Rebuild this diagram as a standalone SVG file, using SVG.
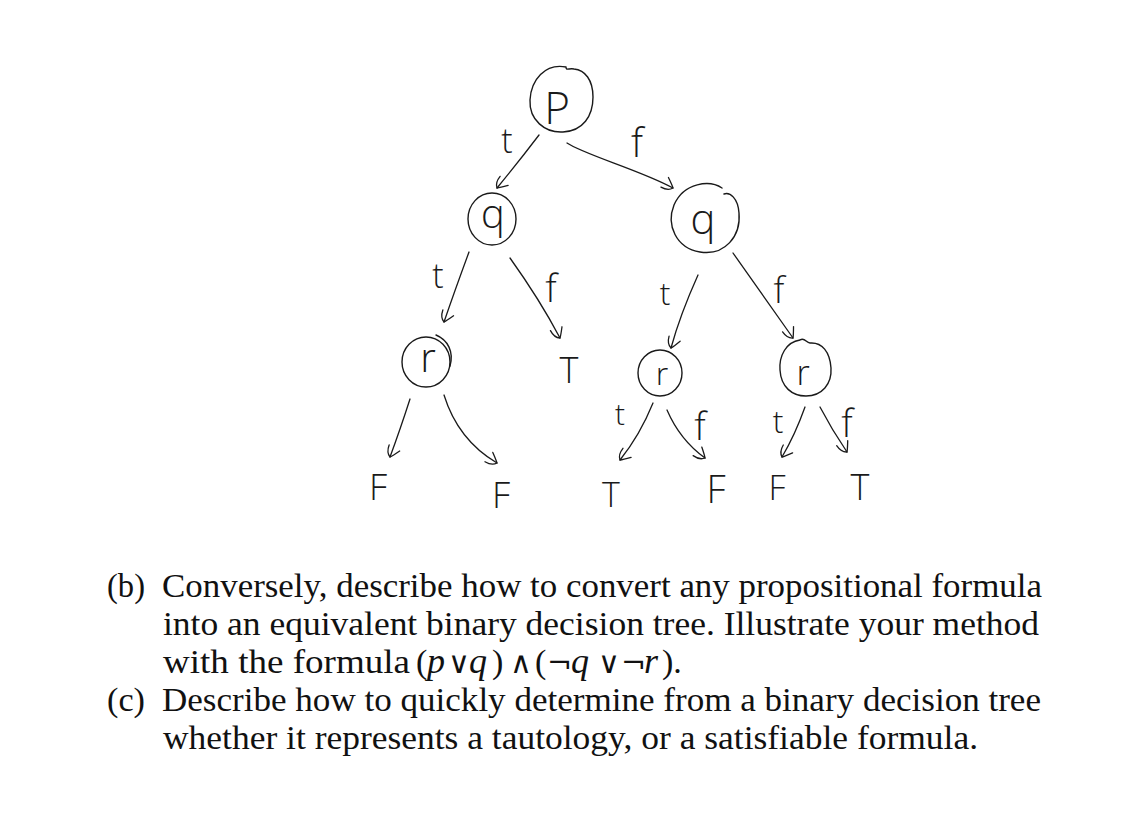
<svg xmlns="http://www.w3.org/2000/svg" width="1148" height="818" viewBox="0 0 1148 818">
<style>
.bg{fill:#ffffff}
.node{fill:none;stroke:#1a1a1a;stroke-width:1.4;stroke-linecap:round}
.edge{fill:none;stroke:#1a1a1a;stroke-width:1.3;stroke-linecap:round;marker-end:url(#hook)}
.hw{font-family:"Open Sans","DejaVu Sans",sans-serif;font-weight:300;fill:#1a1a1a;text-anchor:middle}
.lbl{font-family:"Open Sans","DejaVu Sans",sans-serif;font-weight:300;fill:#1a1a1a;text-anchor:middle}
.body{font-family:"Liberation Serif","DejaVu Serif",serif;font-size:34px;fill:#111}
.it{font-style:italic;font-size:36px}
.sym{font-family:"DejaVu Serif","Liberation Serif",serif;font-size:30px}
</style>
<defs>
<marker id="hook" viewBox="-14 -10 16 20" refX="0" refY="0" markerWidth="16" markerHeight="20" markerUnits="userSpaceOnUse" orient="auto" overflow="visible">
<path d="M-9,-7 Q-2,-2 0,0 M0,0 Q-3,5 -11,5" fill="none" stroke="#1a1a1a" stroke-width="1.3" stroke-linecap="round"/>
</marker>
</defs>
<rect class="bg" x="0" y="0" width="1148" height="818"/>

<g id="connectors">
<path class="edge" d="M539,135 Q520,160 497,188"/>
<path class="edge" d="M567,143 C585,155 640,170 673,188"/>
<path class="edge" d="M469,252 Q455,290 444,322"/>
<path class="edge" d="M510,258 Q540,300 560,338"/>
<path class="edge" d="M410,399 Q400,430 390,457"/>
<path class="edge" d="M444,395 Q458,440 497,463"/>
<path class="edge" d="M698,275 Q680,315 671,348"/>
<path class="edge" d="M733,253 L793,338"/>
<path class="edge" d="M653,403 Q640,435 620,460"/>
<path class="edge" d="M667,410 Q680,440 705,458"/>
<path class="edge" d="M805,407 Q795,435 782,457"/>
<path class="edge" d="M820,407 Q832,430 847,452"/>
<text class="lbl" x="507" y="153" font-size="34">t</text>
<text class="lbl" x="637" y="157" font-size="40">f</text>
<text class="lbl" x="438" y="288" font-size="34">t</text>
<text class="lbl" x="551" y="302" font-size="38">f</text>
<text class="lbl" x="665" y="305" font-size="32">t</text>
<text class="lbl" x="779" y="303" font-size="36">f</text>
<text class="lbl" x="620" y="425" font-size="30">t</text>
<text class="lbl" x="700" y="440" font-size="38">f</text>
<text class="lbl" x="778" y="433" font-size="32">t</text>
<text class="lbl" x="847" y="437" font-size="38">f</text>
</g>

<g id="node-p">
<path class="node" d="M566,67 C545,63 531,80 530,100 C529,120 545,133 563,132 C583,131 593,116 593,97 C593,80 585,70 574,69 C569,68 566,71 566,67"/>
<text class="hw" x="557" y="124" font-size="44">P</text>
</g>
<g id="node-q-left">
<ellipse class="node" cx="492" cy="219" rx="24" ry="26"/>
<text class="hw" x="493" y="228" font-size="40">q</text>
</g>
<g id="node-q-right">
<path class="node" d="M722,188 C710,180 684,182 674,205 C666,225 676,248 700,252 C725,256 741,236 739,213 C738,198 730,192 724,194"/>
<text class="hw" x="703" y="234" font-size="42">q</text>
</g>
<g id="node-r-left">
<ellipse class="node" cx="426" cy="362" rx="24" ry="25"/>
<path class="node" d="M436,335 C448,340 454,352 450,366"/>
<text class="hw" x="428" y="372" font-size="40">r</text>
</g>
<g id="node-r-mid">
<ellipse class="node" cx="660" cy="373" rx="22" ry="23"/>
<text class="hw" x="662" y="385" font-size="32">r</text>
</g>
<g id="node-r-right">
<path class="node" d="M800,340 C786,342 779,356 780,370 C781,387 792,396 806,396 C822,396 832,384 831,368 C830,352 822,342 810,343 C806,343 805,337 800,340"/>
<text class="hw" x="803" y="385" font-size="34">r</text>
</g>

<g id="leaf-F1"><text class="hw" x="378" y="500" font-size="36">F</text></g>
<g id="leaf-F2"><text class="hw" x="501" y="508" font-size="36">F</text></g>
<g id="leaf-T1"><text class="hw" x="569" y="383" font-size="36">T</text></g>
<g id="leaf-T2"><text class="hw" x="611" y="507" font-size="34">T</text></g>
<g id="leaf-F3"><text class="hw" x="716" y="503" font-size="38">F</text></g>
<g id="leaf-F4"><text class="hw" x="777" y="500" font-size="34">F</text></g>
<g id="leaf-T3"><text class="hw" x="860" y="500" font-size="36">T</text></g>

<g id="text">
<text class="body" x="107" y="597" textLength="38" lengthAdjust="spacingAndGlyphs">(b)</text>
<text class="body" x="162" y="597" textLength="880" lengthAdjust="spacingAndGlyphs">Conversely, describe how to convert any propositional formula</text>
<text class="body" x="163" y="635" textLength="876" lengthAdjust="spacingAndGlyphs">into an equivalent binary decision tree.  Illustrate your method</text>
<text class="body" x="163" y="673" textLength="247" lengthAdjust="spacingAndGlyphs">with the formula</text>
<text class="body" y="673"><tspan x="416">(</tspan><tspan class="it" x="427">p</tspan><tspan class="sym" x="448">∨</tspan><tspan class="it" x="469">q</tspan><tspan x="492">)</tspan><tspan class="sym" x="510">∧</tspan><tspan x="535">(</tspan><tspan class="sym" x="547">¬</tspan><tspan class="it" x="571">q</tspan><tspan class="sym" x="598">∨</tspan><tspan class="sym" x="621">¬</tspan><tspan class="it" x="644">r</tspan><tspan x="662">).</tspan></text>
<text class="body" x="107" y="711" textLength="38" lengthAdjust="spacingAndGlyphs">(c)</text>
<text class="body" x="162" y="711" textLength="879" lengthAdjust="spacingAndGlyphs">Describe how to quickly determine from a binary decision tree</text>
<text class="body" x="163" y="749" textLength="815" lengthAdjust="spacingAndGlyphs">whether it represents a tautology, or a satisfiable formula.</text>
</g>
</svg>
